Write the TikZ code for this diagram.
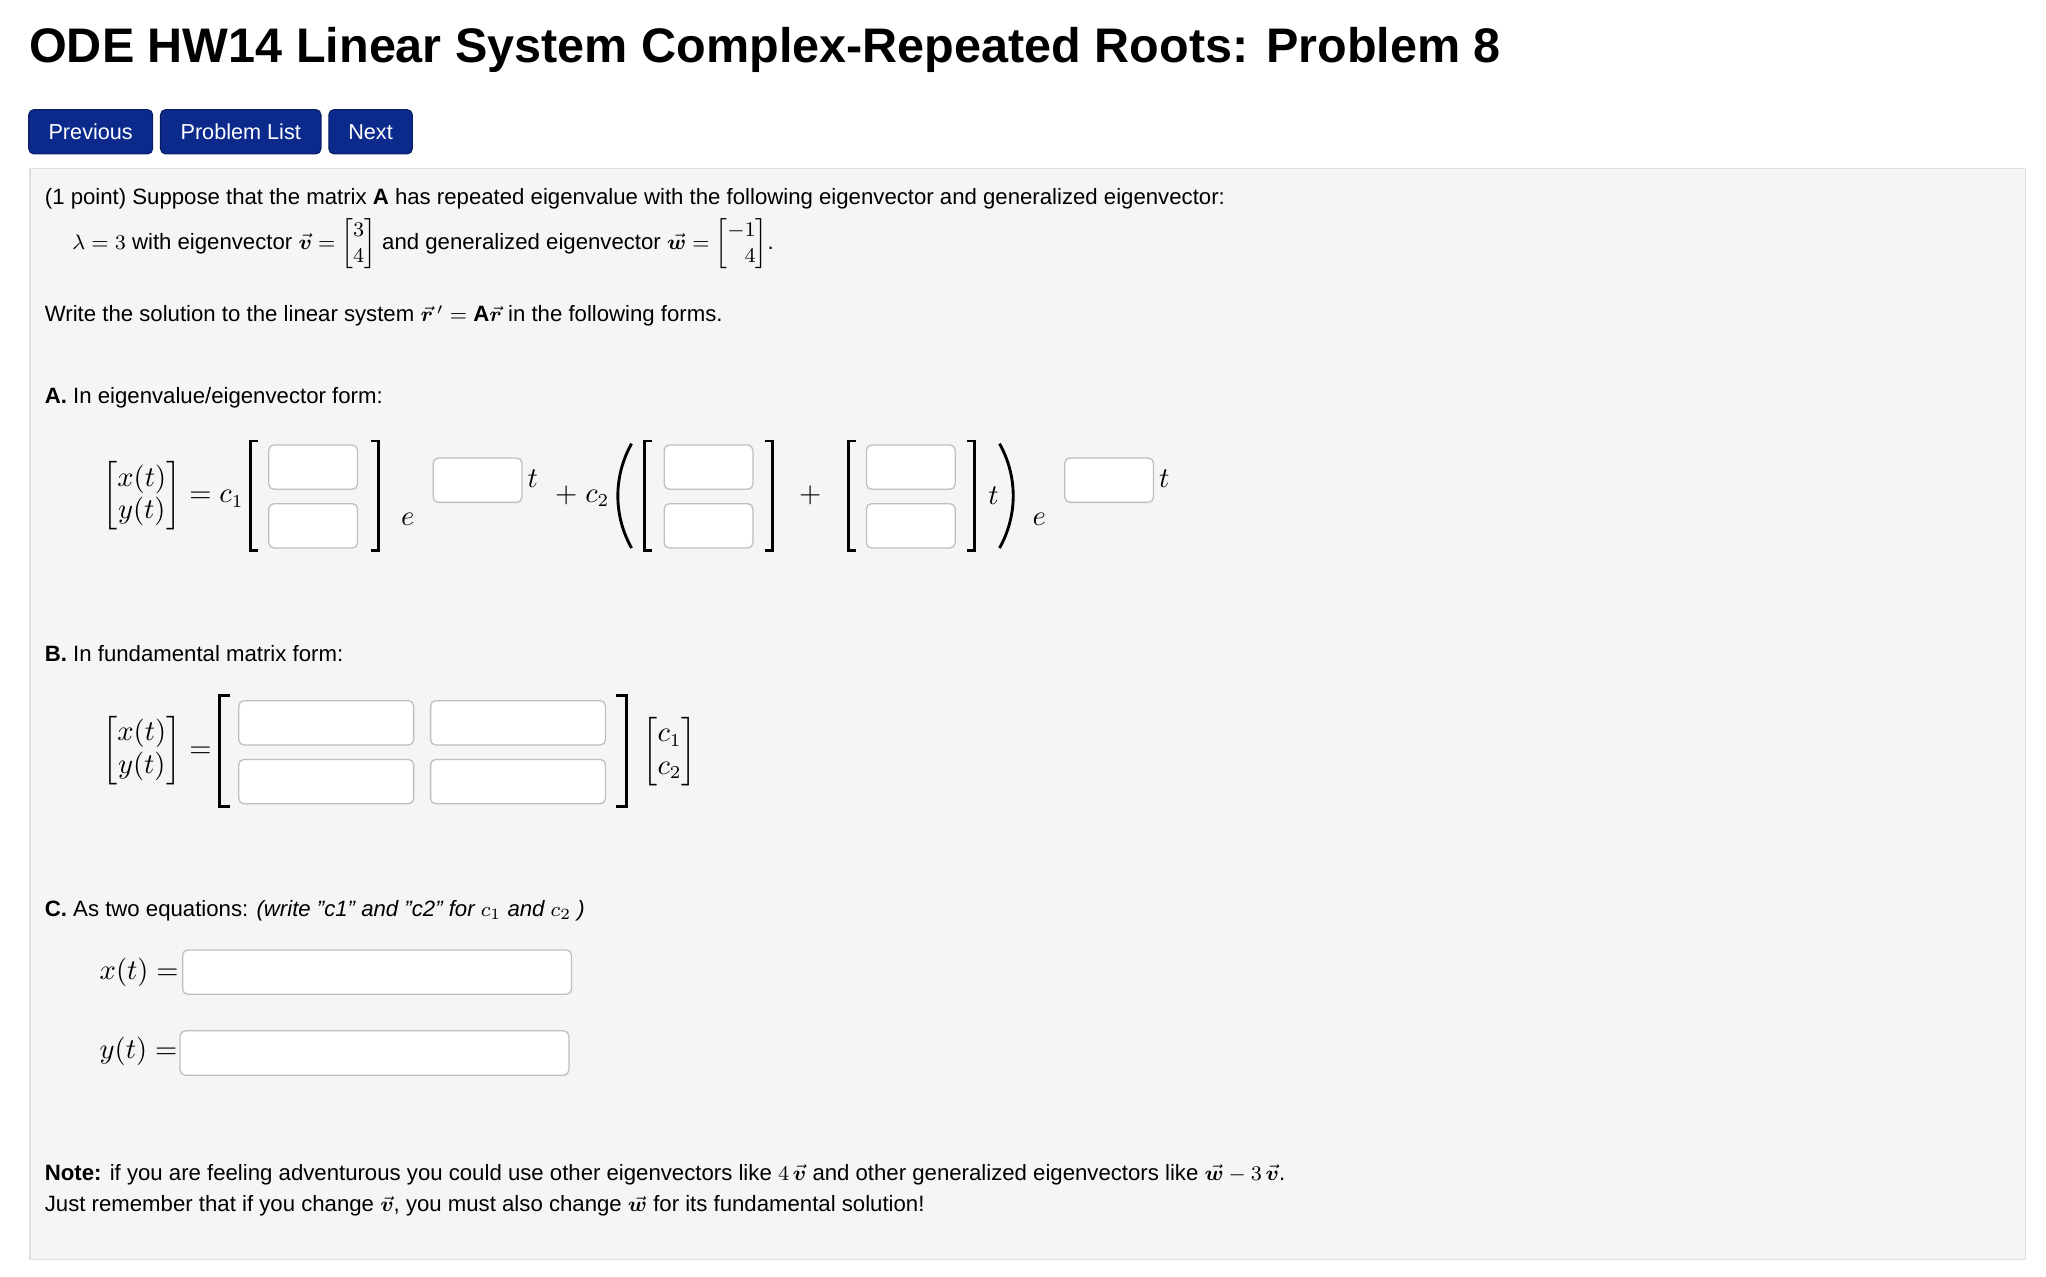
\documentclass[tikz,border=0pt]{standalone}
\usepackage{amsmath,bm}
\usepackage{fontspec}
\setmainfont{Liberation Sans}
\begin{document}
\begin{tikzpicture}[x=0.5pt,y=-0.5pt,
  txt/.style={anchor=west,inner sep=0pt,font=\fontsize{8.5}{10}\selectfont},
  mth/.style={anchor=west,inner sep=0pt,font=\fontsize{10.5}{12.5}\selectfont},
  btn/.style={fill=btnblue,rounded corners=2pt,draw=btnblue!70!black},
  box/.style={fill=white,draw=black!25,rounded corners=2pt,line width=0.5pt},
  brk/.style={line width=1.1pt}]
\definecolor{btnblue}{HTML}{0B2A8C}
\useasboundingbox (0,0) rectangle (1568,978);
\fill[white] (0,0) rectangle (1568,978);
\node[anchor=west,inner sep=0pt,font=\fontsize{18.6}{20}\selectfont\bfseries] (title) at (22,38) {ODE HW14 Linear System Complex-Repeated Roots: Problem 8};
\foreach \a/\b/\t/\n in {22/117/Previous/p,123/246/Problem List/l,252/316/Next/n}{
  \draw[btn] (\a,84) rectangle (\b,118);
  \node[font=\fontsize{8.3}{9}\selectfont,text=white] (b\n) at ({(\a+\b)/2},101) {\t};}
\draw[fill=black!4,draw=black!12] (23,129) rectangle (1552,965);
\node[txt] (l1) at (34,152) {(1 point) Suppose that the matrix $\mathbf{A}$ has repeated eigenvalue with the following eigenvector and generalized eigenvector:};
\node[txt] (l2) at (55,187) {$\lambda=3$ with eigenvector $\vec{\bm v}=\begin{bmatrix}3\\4\end{bmatrix}$ and generalized eigenvector $\vec{\bm w}=\begin{bmatrix}-1\\\phantom{-}4\end{bmatrix}$.};
\node[txt] (l3) at (34,242) {Write the solution to the linear system $\vec{\bm r}\,'=\mathbf{A}\vec{\bm r}$ in the following forms.};
\node[txt] (la) at (34,305) {\textbf{A.} In eigenvalue/eigenvector form:};
% eq A
\node[mth] (xa) at (78,380) {$\begin{bmatrix}x(t)\\y(t)\end{bmatrix}=c_1$};
\foreach \a/\b in {192/290,494/592,650/747}{
  \draw[brk] (\a+6,338)--(\a,338)--(\a,422)--(\a+6,422);
  \draw[brk] (\b-6,338)--(\b,338)--(\b,422)--(\b-6,422);}
\foreach \x in {206,509,664}{
  \draw[box] (\x,341) rectangle +(68,34);
  \draw[box] (\x,386) rectangle +(68,34);}
\draw[box] (332,351) rectangle (400,385);
\draw[box] (816,351) rectangle (884,385);
\node[mth] (e1) at (307,398) {$e$};
\node[mth] (t1) at (404,367) {$t$};
\node[mth] (c2) at (425,380) {$+\;c_2$};
\draw[line width=1.1pt] (484,340) .. controls (470,365) and (470,395) .. (484,420);
\draw[line width=1.1pt] (766,340) .. controls (780,365) and (780,395) .. (766,420);
\node[mth] (pl) at (612,380) {$+$};
\node[mth] (t2) at (757,380) {$t$};
\node[mth] (e2) at (791,398) {$e$};
\node[mth] (t3) at (888,367) {$t$};
\node[txt] (lb) at (34,501) {\textbf{B.} In fundamental matrix form:};
\node[mth] (xb) at (78,575) {$\begin{bmatrix}x(t)\\y(t)\end{bmatrix}=$};
\draw[brk] (176,533)--(168,533)--(168,618)--(176,618);
\draw[brk] (472,533)--(480,533)--(480,618)--(472,618);
\foreach \x in {183,330}{
  \draw[box] (\x,537) rectangle +(134,34);
  \draw[box] (\x,582) rectangle +(134,34);}
\node[mth] (cc) at (492,576) {$\begin{bmatrix}c_1\\c_2\end{bmatrix}$};
\node[txt] (lc) at (34,698) {\textbf{C.} As two equations: \textit{(write "c1" and "c2" for $c_1$ and $c_2$ )}};
\node[mth] (xc) at (76,745) {$x(t)=$};
\draw[box] (140,728) rectangle (438,762);
\node[mth] (yc) at (76,806) {$y(t)=$};
\draw[box] (138,790) rectangle (436,824);
\node[txt] (n1) at (34,900) {\textbf{Note:} if you are feeling adventurous you could use other eigenvectors like $4\,\vec{\bm v}$ and other generalized eigenvectors like $\vec{\bm w}-3\,\vec{\bm v}$.};
\node[txt] (n2) at (34,924) {Just remember that if you change $\vec{\bm v}$, you must also change $\vec{\bm w}$ for its fundamental solution!};
\end{tikzpicture}
\end{document}
